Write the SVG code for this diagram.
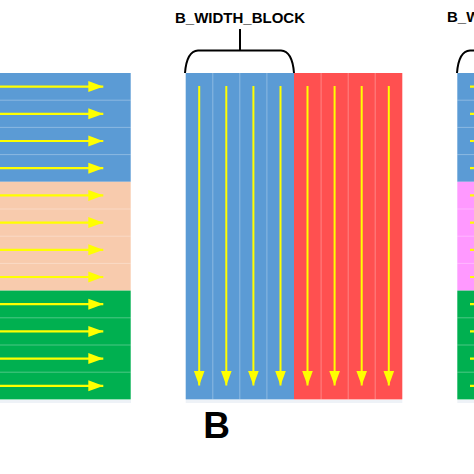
<svg xmlns="http://www.w3.org/2000/svg" width="474" height="474" viewBox="0 0 474 474">
<style>
.blue{fill:#5B9BD5}.peach{fill:#F8CBAD}.green{fill:#00B050}.red{fill:#FF5050}.pink{fill:#FF99FF}
.sep{stroke:#ffffff;stroke-opacity:0.3;stroke-width:1}
.arr{stroke:#FFFF00;stroke-width:2.2;fill:none;marker-end:url(#head)}
.arrv{stroke:#FFFF00;stroke-width:2;fill:none;marker-end:url(#head)}
.brace{stroke:#000;stroke-width:2;fill:none}
.lbl{font-family:"Liberation Sans",Arial,sans-serif;font-weight:bold;fill:#000}
</style>
<defs>
<marker id="head" markerUnits="userSpaceOnUse" markerWidth="15" markerHeight="12" refX="15" refY="6" orient="auto">
<path d="M0,0.5 L15,6 L0,11.5 z" fill="#FFFF00"/>
</marker>
</defs>
<rect width="474" height="474" fill="#fff"/>

<g id="left-block">
<rect x="-90" y="400" width="221" height="3" fill="#eef2f7"/>
<rect class="blue" x="-90" y="73" width="220.7" height="108.8"/>
<rect class="peach" x="-90" y="181.8" width="220.7" height="108.8"/>
<rect class="green" x="-90" y="290.6" width="220.7" height="108.8"/>
<g class="sep">
<line x1="-90" y1="100.2" x2="130.7" y2="100.2"/><line x1="-90" y1="127.4" x2="130.7" y2="127.4"/><line x1="-90" y1="154.6" x2="130.7" y2="154.6"/>
<line x1="-90" y1="209" x2="130.7" y2="209"/><line x1="-90" y1="236.2" x2="130.7" y2="236.2"/><line x1="-90" y1="263.4" x2="130.7" y2="263.4"/>
<line x1="-90" y1="317.8" x2="130.7" y2="317.8"/><line x1="-90" y1="345" x2="130.7" y2="345"/><line x1="-90" y1="372.2" x2="130.7" y2="372.2"/>
</g>
</g>

<g id="middle-block">
<rect x="185.7" y="400" width="216.6" height="3" fill="#eef2f7"/>
<rect class="blue" x="185.7" y="73" width="108.3" height="326.4"/>
<rect class="red" x="294" y="73" width="108.3" height="326.4"/>
<g class="sep">
<line x1="212.8" y1="73" x2="212.8" y2="399.4"/><line x1="239.8" y1="73" x2="239.8" y2="399.4"/><line x1="266.9" y1="73" x2="266.9" y2="399.4"/>
<line x1="321.1" y1="73" x2="321.1" y2="399.4"/><line x1="348.2" y1="73" x2="348.2" y2="399.4"/><line x1="375.2" y1="73" x2="375.2" y2="399.4"/>
</g>
</g>

<g id="right-block">
<rect x="457.3" y="400" width="20" height="3" fill="#eef2f7"/>
<rect class="blue" x="457.3" y="73" width="20" height="108.8"/>
<rect class="pink" x="457.3" y="181.8" width="20" height="108.8"/>
<rect class="green" x="457.3" y="290.6" width="20" height="108.8"/>
<g class="sep">
<line x1="457.3" y1="100.2" x2="477" y2="100.2"/><line x1="457.3" y1="127.4" x2="477" y2="127.4"/><line x1="457.3" y1="154.6" x2="477" y2="154.6"/>
<line x1="457.3" y1="209" x2="477" y2="209"/><line x1="457.3" y1="236.2" x2="477" y2="236.2"/><line x1="457.3" y1="263.4" x2="477" y2="263.4"/>
<line x1="457.3" y1="317.8" x2="477" y2="317.8"/><line x1="457.3" y1="345" x2="477" y2="345"/><line x1="457.3" y1="372.2" x2="477" y2="372.2"/>
</g>
</g>

<g id="connectors">
<line class="arr" x1="-20" y1="86.6" x2="103.3" y2="86.6"/>
<line class="arr" x1="-20" y1="113.8" x2="103.3" y2="113.8"/>
<line class="arr" x1="-20" y1="141" x2="103.3" y2="141"/>
<line class="arr" x1="-20" y1="168.2" x2="103.3" y2="168.2"/>
<line class="arr" x1="-20" y1="195.4" x2="103.3" y2="195.4"/>
<line class="arr" x1="-20" y1="222.6" x2="103.3" y2="222.6"/>
<line class="arr" x1="-20" y1="249.8" x2="103.3" y2="249.8"/>
<line class="arr" x1="-20" y1="277" x2="103.3" y2="277"/>
<line class="arr" x1="-20" y1="304.2" x2="103.3" y2="304.2"/>
<line class="arr" x1="-20" y1="331.4" x2="103.3" y2="331.4"/>
<line class="arr" x1="-20" y1="358.6" x2="103.3" y2="358.6"/>
<line class="arr" x1="-20" y1="385.8" x2="103.3" y2="385.8"/>

<line class="arrv" x1="199.2" y1="86" x2="199.2" y2="385.5"/>
<line class="arrv" x1="226.3" y1="86" x2="226.3" y2="385.5"/>
<line class="arrv" x1="253.4" y1="86" x2="253.4" y2="385.5"/>
<line class="arrv" x1="280.5" y1="86" x2="280.5" y2="385.5"/>
<line class="arrv" x1="307.5" y1="86" x2="307.5" y2="385.5"/>
<line class="arrv" x1="334.6" y1="86" x2="334.6" y2="385.5"/>
<line class="arrv" x1="361.7" y1="86" x2="361.7" y2="385.5"/>
<line class="arrv" x1="388.8" y1="86" x2="388.8" y2="385.5"/>

<line class="arr" x1="470" y1="86.6" x2="593" y2="86.6"/>
<line class="arr" x1="470" y1="113.8" x2="593" y2="113.8"/>
<line class="arr" x1="470" y1="141" x2="593" y2="141"/>
<line class="arr" x1="470" y1="168.2" x2="593" y2="168.2"/>
<line class="arr" x1="470" y1="195.4" x2="593" y2="195.4"/>
<line class="arr" x1="470" y1="222.6" x2="593" y2="222.6"/>
<line class="arr" x1="470" y1="249.8" x2="593" y2="249.8"/>
<line class="arr" x1="470" y1="277" x2="593" y2="277"/>
<line class="arr" x1="470" y1="304.2" x2="593" y2="304.2"/>
<line class="arr" x1="470" y1="331.4" x2="593" y2="331.4"/>
<line class="arr" x1="470" y1="358.6" x2="593" y2="358.6"/>
<line class="arr" x1="470" y1="385.8" x2="593" y2="385.8"/>
</g>

<g id="middle-brace">
<path class="brace" d="M185,73 C186,60 190,51 198,50.5 L281,50.5 C289,51 293,60 294,73"/>
<line class="brace" x1="240" y1="50.5" x2="240" y2="29"/>
<text class="lbl" x="240" y="23" font-size="15" text-anchor="middle">B_WIDTH_BLOCK</text>
</g>

<g id="right-brace">
<path class="brace" d="M457,73 C458,60 462,51 470,50.5 L553,50.5 C561,51 565,60 566,73"/>
<line class="brace" x1="512" y1="50.5" x2="512" y2="29"/>
<text class="lbl" x="512" y="22" font-size="15" text-anchor="middle">B_WIDTH_BLOCK</text>
</g>

<text class="lbl" x="216.7" y="438" font-size="37" text-anchor="middle">B</text>
</svg>
